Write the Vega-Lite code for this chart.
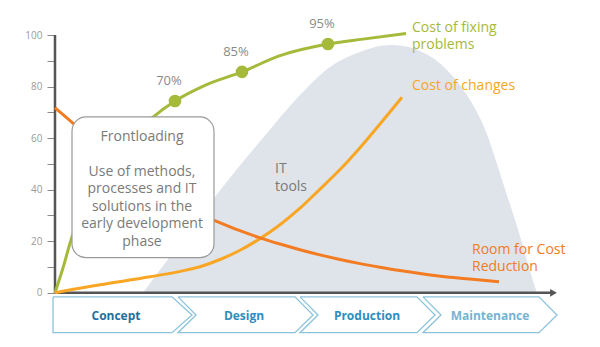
{
  "$schema": "https://vega.github.io/schema/vega-lite/v6.json",
  "width": 502,
  "height": 299,
  "autosize": {"type": "none"},
  "padding": {"left": 55, "top": 35, "right": 43, "bottom": 13},
  "background": "white",
  "config": {"view": {"stroke": null}, "font": "Open Sans"},
  "datasets": {
    "chevrons": [
      {"phase": "Concept", "i": 0, "x": -0.4, "y": -1.6},
      {"phase": "Concept", "i": 1, "x": 23.4, "y": -1.6},
      {"phase": "Concept", "i": 2, "x": 27.4, "y": -8.6},
      {"phase": "Concept", "i": 3, "x": 23.4, "y": -15.5},
      {"phase": "Concept", "i": 4, "x": -0.4, "y": -15.5},
      {"phase": "Concept", "i": 5, "x": -0.4, "y": -1.6},
      {"phase": "Design", "i": 0, "x": 24.6, "y": -1.6},
      {"phase": "Design", "i": 1, "x": 48.0, "y": -1.6},
      {"phase": "Design", "i": 2, "x": 51.6, "y": -8.6},
      {"phase": "Design", "i": 3, "x": 48.0, "y": -15.5},
      {"phase": "Design", "i": 4, "x": 24.6, "y": -15.5},
      {"phase": "Design", "i": 5, "x": 28.2, "y": -8.6},
      {"phase": "Design", "i": 6, "x": 24.6, "y": -1.6},
      {"phase": "Production", "i": 0, "x": 49.0, "y": -1.6},
      {"phase": "Production", "i": 1, "x": 72.4, "y": -1.6},
      {"phase": "Production", "i": 2, "x": 76.0, "y": -8.6},
      {"phase": "Production", "i": 3, "x": 72.4, "y": -15.5},
      {"phase": "Production", "i": 4, "x": 49.0, "y": -15.5},
      {"phase": "Production", "i": 5, "x": 52.6, "y": -8.6},
      {"phase": "Production", "i": 6, "x": 49.0, "y": -1.6},
      {"phase": "Maintenance", "i": 0, "x": 73.6, "y": -1.6},
      {"phase": "Maintenance", "i": 1, "x": 96.8, "y": -1.6},
      {"phase": "Maintenance", "i": 2, "x": 100.4, "y": -8.6},
      {"phase": "Maintenance", "i": 3, "x": 96.8, "y": -15.5},
      {"phase": "Maintenance", "i": 4, "x": 73.6, "y": -15.5},
      {"phase": "Maintenance", "i": 5, "x": 77.2, "y": -8.6},
      {"phase": "Maintenance", "i": 6, "x": 73.6, "y": -1.6}
    ],
    "phases": [
      {"key": "Concept", "text": "Concept", "x": 12.2, "y": -8.9},
      {"key": "Design", "text": "Design", "x": 37.8, "y": -8.9},
      {"key": "Production", "text": "Production", "x": 62.4, "y": -8.9},
      {"key": "Maintenance", "text": "Maintenance", "x": 87.0, "y": -8.9}
    ],
    "tools": [
      {"x": 17.6, "y": 0},
      {"x": 26.0, "y": 21.8},
      {"x": 35.0, "y": 44.6},
      {"x": 42.0, "y": 61.0},
      {"x": 49.0, "y": 76.7},
      {"x": 55.0, "y": 87.6},
      {"x": 61.0, "y": 93.4},
      {"x": 67.0, "y": 96.1},
      {"x": 70.0, "y": 95.6},
      {"x": 73.0, "y": 93.8},
      {"x": 76.0, "y": 90.5},
      {"x": 78.4, "y": 86.4},
      {"x": 81.0, "y": 80.5},
      {"x": 83.6, "y": 72.8},
      {"x": 86.2, "y": 62.5},
      {"x": 88.4, "y": 50.0},
      {"x": 90.2, "y": 39.0},
      {"x": 91.8, "y": 29.5},
      {"x": 93.3, "y": 20.0},
      {"x": 94.7, "y": 10.5},
      {"x": 95.7, "y": 4.0},
      {"x": 96.4, "y": 0}
    ],
    "axes": [
      {"x": 0, "y": 0, "x2": 0, "y2": 100},
      {"x": 0, "y": 0, "x2": 99.6, "y2": 0}
    ],
    "arrow": [{"x": 99.7, "y": 0}],
    "curves": [
      {"series": "fix", "x": 0, "y": 0},
      {"series": "fix", "x": 1.5, "y": 9},
      {"series": "fix", "x": 3.4, "y": 21.7},
      {"series": "fix", "x": 8, "y": 40},
      {"series": "fix", "x": 12, "y": 52},
      {"series": "fix", "x": 16, "y": 61.5},
      {"series": "fix", "x": 19.4, "y": 67.8},
      {"series": "fix", "x": 24, "y": 74.4},
      {"series": "fix", "x": 30, "y": 80.5},
      {"series": "fix", "x": 37.4, "y": 85.7},
      {"series": "fix", "x": 45, "y": 92.0},
      {"series": "fix", "x": 54.6, "y": 96.5},
      {"series": "fix", "x": 61.6, "y": 98.4},
      {"series": "fix", "x": 70.2, "y": 100.6},
      {"series": "changes", "x": 0, "y": 0},
      {"series": "changes", "x": 2.4, "y": 0.9},
      {"series": "changes", "x": 9, "y": 3.1},
      {"series": "changes", "x": 19, "y": 6.2},
      {"series": "changes", "x": 25, "y": 8.3},
      {"series": "changes", "x": 29, "y": 10.1},
      {"series": "changes", "x": 33, "y": 12.9},
      {"series": "changes", "x": 37, "y": 16.5},
      {"series": "changes", "x": 41, "y": 21.0},
      {"series": "changes", "x": 45, "y": 26.4},
      {"series": "changes", "x": 49, "y": 32.8},
      {"series": "changes", "x": 53, "y": 40.2},
      {"series": "changes", "x": 57, "y": 47.8},
      {"series": "changes", "x": 61, "y": 56.3},
      {"series": "changes", "x": 65, "y": 65.5},
      {"series": "changes", "x": 69.4, "y": 75.8},
      {"series": "room", "x": 0, "y": 71.7},
      {"series": "room", "x": 4.4, "y": 64.3},
      {"series": "room", "x": 10, "y": 53.4},
      {"series": "room", "x": 17, "y": 43.5},
      {"series": "room", "x": 24, "y": 35.3},
      {"series": "room", "x": 31.6, "y": 28.3},
      {"series": "room", "x": 41, "y": 21.3},
      {"series": "room", "x": 45, "y": 18.9},
      {"series": "room", "x": 49, "y": 16.7},
      {"series": "room", "x": 53, "y": 14.7},
      {"series": "room", "x": 57, "y": 12.9},
      {"series": "room", "x": 61, "y": 11.3},
      {"series": "room", "x": 65, "y": 9.9},
      {"series": "room", "x": 69, "y": 8.6},
      {"series": "room", "x": 74, "y": 7.2},
      {"series": "room", "x": 79, "y": 6.0},
      {"series": "room", "x": 84, "y": 5.1},
      {"series": "room", "x": 88.8, "y": 4.3}
    ],
    "dots": [
      {"x": 24, "y": 74.4, "label": "70%"},
      {"x": 37.4, "y": 85.7, "label": "85%"},
      {"x": 54.6, "y": 96.5, "label": "95%"}
    ],
    "box": [{"x": 3.4, "y": 68.2, "x2": 31.8, "y2": 13.6}],
    "boxText": [
      {"x": 17.4, "y": 58.9, "text": "Frontloading"},
      {"x": 17.4, "y": 45.3, "text": "Use of methods,\nprocesses and IT\nsolutions in the\nearly development\nphase"}
    ],
    "itText": [{"x": 44, "y": 46.5, "text": "IT\ntools"}],
    "seriesLabels": [
      {"key": "fix", "x": 71.4, "y": 101.2, "text": "Cost of fixing\nproblems"},
      {"key": "changes", "x": 71.4, "y": 78.7, "text": "Cost of changes"},
      {"key": "room", "x": 83.4, "y": 15.1, "text": "Room for Cost\nReduction"}
    ]
  },
  "encoding": {
    "x": {"field": "x", "type": "quantitative", "scale": {"domain": [0, 100.4], "nice": false, "zero": false}, "axis": null},
    "y": {
      "field": "y", "type": "quantitative",
      "scale": {"domain": [-16, 100], "nice": false, "zero": false},
      "axis": {
        "title": null,
        "values": [0, 10, 20, 30, 40, 50, 60, 70, 80, 90, 100],
        "labelExpr": "datum.value % 20 === 0 ? datum.label : ''",
        "domain": false, "grid": false,
        "tickSize": 8, "tickColor": "#8a8a8a", "tickWidth": 1,
        "labelColor": "#9a9a9a", "labelFontSize": 10, "labelPadding": 5, "labelFont": "Open Sans"
      }
    }
  },
  "layer": [
    {
      "data": {"name": "chevrons"},
      "mark": {"type": "line", "stroke": "#8cc3da", "strokeWidth": 1.3},
      "encoding": {"detail": {"field": "phase"}, "order": {"field": "i", "type": "quantitative"}}
    },
    {
      "data": {"name": "phases"},
      "mark": {"type": "text", "fontSize": 12, "fontWeight": "bold", "baseline": "middle", "align": "center", "font": "Open Sans"},
      "encoding": {
        "text": {"field": "text"},
        "color": {"field": "key", "type": "nominal", "legend": null,
          "scale": {"domain": ["Concept", "Design", "Production", "Maintenance", "fix", "changes", "room"],
                    "range": ["#1e6f9c", "#2f8dbd", "#2f8dbd", "#74b4d4", "#a5b93a", "#f8a623", "#f37b21"]}}
      }
    },
    {
      "data": {"name": "tools"},
      "mark": {"type": "area", "color": "#dfe4ea", "interpolate": "monotone"},
      "encoding": {"y2": {"datum": 0}}
    },
    {
      "data": {"name": "axes"},
      "mark": {"type": "rule", "stroke": "#555555", "strokeWidth": 2.5},
      "encoding": {"x2": {"field": "x2"}, "y2": {"field": "y2"}}
    },
    {
      "data": {"name": "arrow"},
      "mark": {"type": "point", "shape": "triangle-right", "filled": true, "size": 60, "color": "#555555", "opacity": 1},
      "encoding": {}
    },
    {
      "data": {"name": "curves"},
      "mark": {"type": "line", "interpolate": "monotone", "strokeWidth": 3},
      "encoding": {
        "stroke": {"field": "series", "type": "nominal", "legend": null,
          "scale": {"domain": ["fix", "changes", "room"], "range": ["#a5b93a", "#f8a623", "#f37b21"]}}
      }
    },
    {
      "data": {"name": "dots"},
      "mark": {"type": "point", "filled": true, "size": 160, "color": "#a5b93a", "opacity": 1},
      "encoding": {}
    },
    {
      "data": {"name": "dots"},
      "mark": {"type": "text", "fontSize": 13, "color": "#8a8a8a", "dx": -6, "dy": -20, "baseline": "middle", "align": "center"},
      "encoding": {"text": {"field": "label"}}
    },
    {
      "data": {"name": "box"},
      "mark": {"type": "rect", "cornerRadius": 14, "fill": "white", "stroke": "#9a9a9a", "strokeWidth": 1.2},
      "encoding": {"x2": {"field": "x2"}, "y2": {"field": "y2"}}
    },
    {
      "data": {"name": "boxText"},
      "mark": {"type": "text", "fontSize": 14, "color": "#7a7a7a", "align": "center", "baseline": "alphabetic", "lineBreak": "\n", "lineHeight": 17.5},
      "encoding": {"text": {"field": "text"}}
    },
    {
      "data": {"name": "itText"},
      "mark": {"type": "text", "fontSize": 14, "color": "#7a7a7a", "align": "left", "baseline": "alphabetic", "lineBreak": "\n", "lineHeight": 18},
      "encoding": {"text": {"field": "text"}}
    },
    {
      "data": {"name": "seriesLabels"},
      "mark": {"type": "text", "fontSize": 14, "align": "left", "baseline": "alphabetic", "lineBreak": "\n", "lineHeight": 17.5},
      "encoding": {
        "text": {"field": "text"},
        "color": {"field": "key", "type": "nominal", "legend": null,
          "scale": {"domain": ["Concept", "Design", "Production", "Maintenance", "fix", "changes", "room"],
                    "range": ["#1e6f9c", "#2f8dbd", "#2f8dbd", "#74b4d4", "#a5b93a", "#f8a623", "#f37b21"]}}
      }
    }
  ]
}
